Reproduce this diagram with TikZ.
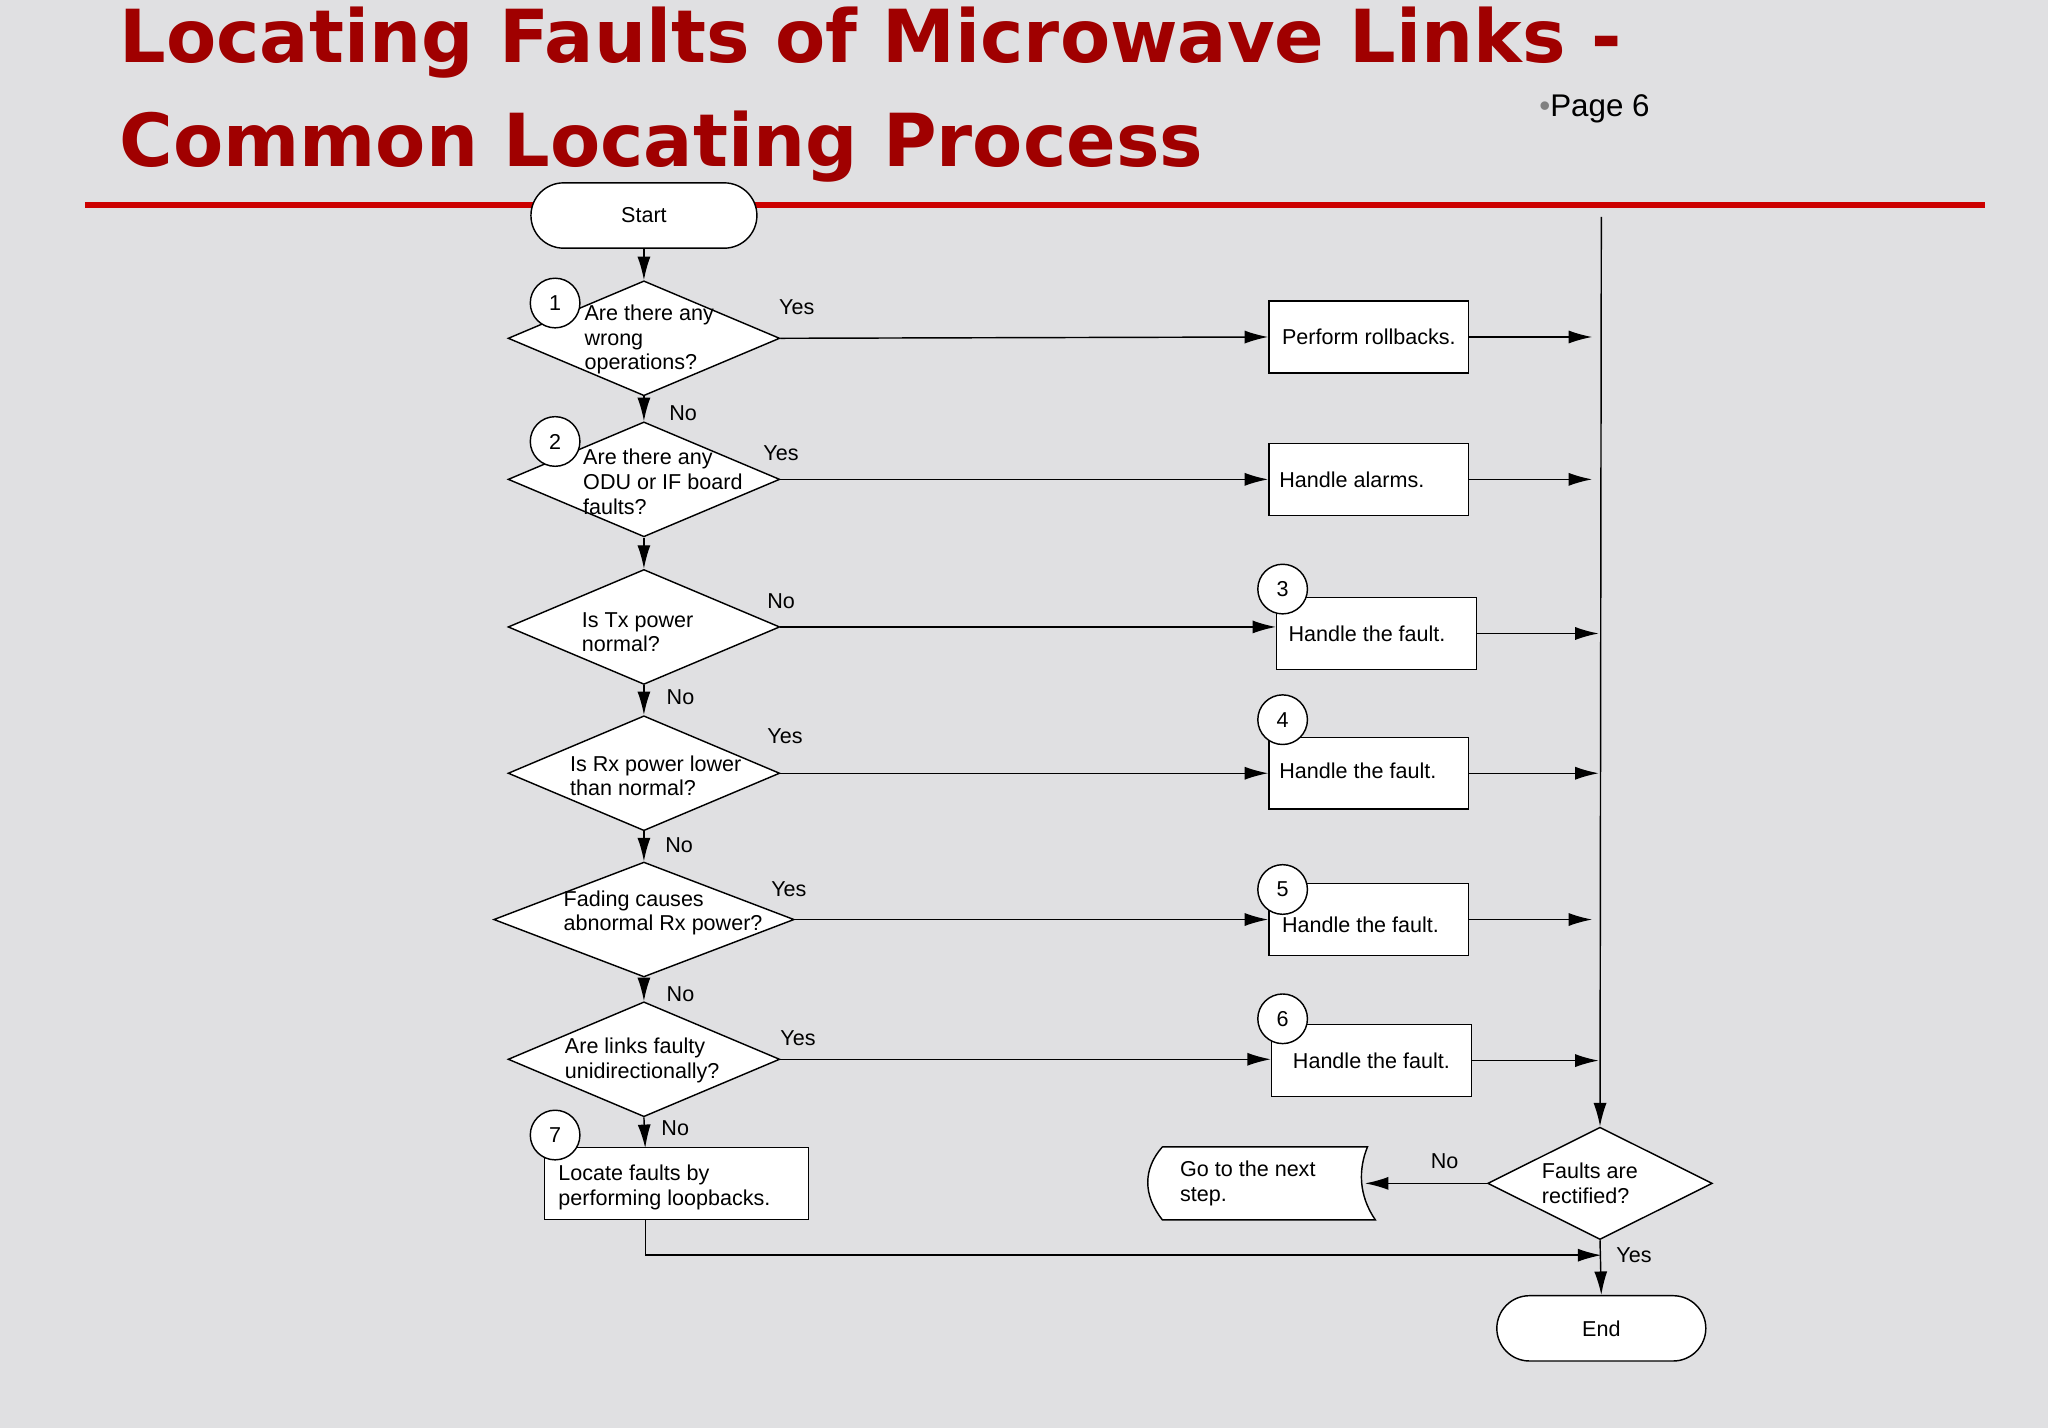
\documentclass[tikz,border=0pt]{standalone}
\usepackage{fontspec}
\setmainfont{Liberation Sans}
\newfontfamily\titlefont{DejaVu Sans}
\usetikzlibrary{shapes.geometric,arrows.meta}
\definecolor{bg}{RGB}{224,224,226}
\definecolor{dred}{RGB}{160,0,0}
\definecolor{lred}{RGB}{204,0,0}
\tikzset{
  every node/.style={font=\fontsize{16.5}{19}\selectfont},
  conn/.style={line width=1.1pt,-{Latex[length=18pt,width=10pt]}},
  plain/.style={line width=1.1pt},
  dia/.style={diamond,draw,fill=white,line width=1.1pt,minimum width=208pt,minimum height=88pt,inner sep=0pt},
  box/.style={draw,fill=white,line width=1.1pt,minimum width=153pt,minimum height=55pt,inner sep=0pt},
  term/.style={draw,fill=white,line width=1.1pt,rounded corners=25pt,minimum height=50pt,inner sep=0pt},
  num/.style={circle,draw,fill=white,line width=1.1pt,minimum size=38pt,inner sep=0pt},
  lbl/.style={font=\fontsize{16.5}{19}\selectfont},
  txt/.style={align=left,anchor=west,font=\fontsize{16.5}{19}\selectfont}
}
\begin{document}
\begin{tikzpicture}[x=1pt,y=-1pt]
\fill[bg] (0,0) rectangle (1568,1093);
\useasboundingbox (0,0) rectangle (1568,1093);
\node[anchor=west,text=dred,font=\titlefont\bfseries\fontsize{56}{66}\selectfont] (t1) at (88,33) {Locating Faults of Microwave Links -};
\node[anchor=west,text=dred,font=\titlefont\bfseries\fontsize{56}{66}\selectfont] (t2) at (88,112) {Common Locating Process};
\node[anchor=west,font=\fontsize{24}{28}\selectfont] (pg) at (1175,83) {{\color{gray}\textbullet}Page 6};
\draw[lred,line width=4pt] (65,157) -- (1520,157);
% main column
\node[term,minimum width=173pt] (start) at (493,165) {Start};
\node[dia] (d1) at (493,259) {};
\node[dia] (d2) at (493,367) {};
\node[dia] (d3) at (493,480) {};
\node[dia] (d4) at (493,592) {};
\node[dia,minimum width=230pt] (d5) at (493,704) {};
\node[dia] (d6) at (493,811) {};
\node[txt] at (444,260) {Are there any\\wrong\\operations?};
\node[txt] at (443,369) {Are there any\\ODU or IF board\\faults?};
\node[txt] at (442,484) {Is Tx power\\normal?};
\node[txt] at (433,594) {Is Rx power lower\\than normal?};
\node[txt] at (428,699) {Fading causes\\abnormal Rx power?};
\node[txt] at (429,812) {Are links faulty\\unidirectionally?};
\node[box,minimum width=202pt] (b7) at (518,906) {};
\node[txt] at (424,909) {Locate faults by\\performing loopbacks.};
\node[num] at (425,232) {1};
\node[num] at (425,338) {2};
\node[num] at (425,869) {7};
% right boxes
\node[box] (r1) at (1048,258) {Perform rollbacks.};
\node[box] (r2) at (1048,367) {};
\node[txt] at (976,367) {Handle alarms.};
\node[box] (r3) at (1054,485) {};
\node[txt] at (983,485) {Handle the fault.};
\node[box] (r4) at (1048,592) {};
\node[txt] at (976,590) {Handle the fault.};
\node[box] (r5) at (1048,704) {};
\node[txt] at (978,708) {Handle the fault.};
\node[box] (r6) at (1050,812) {Handle the fault.};
\node[num] at (982,451) {3};
\node[num] at (982,551) {4};
\node[num] at (982,681) {5};
\node[num] at (982,780) {6};
% right column
\node[dia,minimum width=172pt,minimum height=86pt] (df) at (1225,906) {};
\node[txt] at (1177,906) {Faults are\\rectified?};
\node[term,minimum width=160pt] (end) at (1226,1017) {End};
\coordinate (top) at (1226,166);
\draw[conn] (top) -- (df.north);
\draw[plain,fill=white] (890,878) -- (1047,878) .. controls (1040,895) and (1040,915) .. (1053,934) -- (890,934) .. controls (875,915) and (875,895) .. (890,878);
\coordinate (gn) at (1045,906);
\node[txt] at (900,906) {Go to the next\\step.};
% vertical flow
\draw[conn] (start) -- (d1);
\draw[conn] (d1) -- (d2);
\draw[conn] (d2) -- (d3);
\draw[conn] (d3) -- (d4);
\draw[conn] (d4) -- (d5);
\draw[conn] (d5) -- (d6);
\draw[conn] (d6.south) -- (494,879);
\node[lbl] at (523,316) {No};
\node[lbl] at (521,534) {No};
\node[lbl] at (520,647) {No};
\node[lbl] at (521,761) {No};
\node[lbl] at (517,864) {No};
% horizontal
\draw[conn] (d1.east) -- (r1.west);
\draw[conn] (d2.east) -- (r2.west);
\draw[conn] (d3.east) -- (r3.west|-d3.east);
\draw[conn] (d4.east) -- (r4.west);
\draw[conn] (d5.east) -- (r5.west);
\draw[conn] (d6.east) -- (r6.west|-d6.east);
\node[lbl] at (610,235) {Yes};
\node[lbl] at (598,347) {Yes};
\node[lbl] at (598,460) {No};
\node[lbl] at (601,564) {Yes};
\node[lbl] at (604,681) {Yes};
\node[lbl] at (611,795) {Yes};
\draw[conn] (r1.east) -- (1219,258);
\draw[conn] (r2.east) -- (1219,367);
\draw[conn] (r3.east) -- (1224,485);
\draw[conn] (r4.east) -- (1224,592);
\draw[conn] (r5.east) -- (1219,704);
\draw[conn] (r6.east) -- (1224,812);
% bottom
\draw[conn] (b7.south-|494,0) -- (494,961) -- (1226,961);
\draw[conn] (df.south) -- (end.north);
\node[lbl] at (1251,961) {Yes};
\draw[conn] (df.west) -- (gn);
\node[lbl] at (1106,889) {No};
\end{tikzpicture}
\end{document}
